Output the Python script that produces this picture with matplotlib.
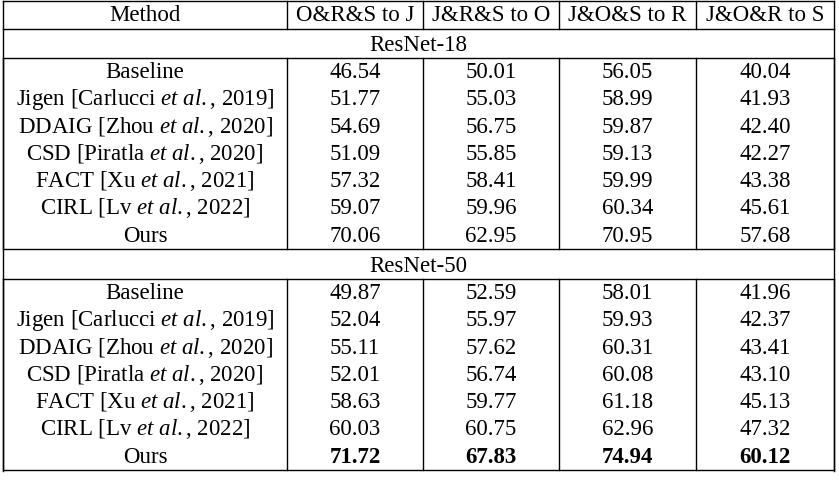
import matplotlib
matplotlib.use("Agg")
import matplotlib.pyplot as plt

plt.rcParams['font.family'] = 'Liberation Serif'
plt.rcParams['mathtext.fontset'] = 'custom'
plt.rcParams['mathtext.rm'] = 'Liberation Serif'
plt.rcParams['mathtext.it'] = 'Liberation Serif:italic'

columns = ["Method", "O&R&S to J", "J&R&S to O", "J&O&S to R", "J&O&R to S"]
methods = ["Baseline",
           r"Jigen [Carlucci $\mathit{et\ al.}$, 2019]",
           r"DDAIG [Zhou $\mathit{et\ al.}$, 2020]",
           r"CSD [Piratla $\mathit{et\ al.}$, 2020]",
           r"FACT [Xu $\mathit{et\ al.}$, 2021]",
           r"CIRL [Lv $\mathit{et\ al.}$, 2022]",
           "Ours"]
resnet18 = [["46.54", "50.01", "56.05", "40.04"],
            ["51.77", "55.03", "58.99", "41.93"],
            ["54.69", "56.75", "59.87", "42.40"],
            ["51.09", "55.85", "59.13", "42.27"],
            ["57.32", "58.41", "59.99", "43.38"],
            ["59.07", "59.96", "60.34", "45.61"],
            ["70.06", "62.95", "70.95", "57.68"]]
resnet50 = [["49.87", "52.59", "58.01", "41.96"],
            ["52.04", "55.97", "59.93", "42.37"],
            ["55.11", "57.62", "60.31", "43.41"],
            ["52.01", "56.74", "60.08", "43.10"],
            ["58.63", "59.77", "61.18", "45.13"],
            ["60.03", "60.75", "62.96", "47.32"],
            ["71.72", "67.83", "74.94", "60.12"]]

W, H = 839, 481
fig = plt.figure(figsize=(W / 100, H / 100), dpi=100)
ax = fig.add_axes([0, 0, 1, 1])
ax.set_xlim(0, W)
ax.set_ylim(H, 0)
ax.axis("off")

xs = [3, 287, 423, 559, 696, 834]
centers = [(xs[i] + xs[i + 1]) / 2 for i in range(5)]
fs = 16.5
lw = 1.0
dy = 6  # baseline offset from row centre

def hline(y):
    ax.plot([xs[0], xs[-1]], [y, y], color="black", lw=lw)

def vlines(y0, y1):
    for x in xs:
        ax.plot([x, x], [y0, y1], color="black", lw=lw)

def put(x, y, s, **kw):
    ax.text(x, y + dy, s, ha="center", va="baseline", fontsize=fs, **kw)

hline(2)
for c, t in zip(centers, columns):
    put(c, 15, t)
vlines(2, 30)
hline(30)

def block(title, y_title, y_line, y_first, data, bold_last):
    put((xs[0] + xs[-1]) / 2, y_title, title)
    hline(y_line)
    step = 27.3
    for i, (m, row) in enumerate(zip(methods, data)):
        y = y_first + i * step
        put(centers[0], y, m)
        for c, v in zip(centers[1:], row):
            bold = bold_last and i == len(data) - 1
            put(c, y, v, fontweight="bold" if bold else "normal")
    y_end = y_first + (len(data) - 1) * step + 14
    vlines(y_line, y_end)
    hline(y_end)
    return y_end

ax.plot([xs[0], xs[0]], [30, 472], color="black", lw=lw)
ax.plot([xs[-1], xs[-1]], [30, 472], color="black", lw=lw)
block("ResNet-18", 45, 59, 72, resnet18, False)
block("ResNet-50", 266, 280, 293, resnet50, True)

fig.savefig("out.png", dpi=100)
